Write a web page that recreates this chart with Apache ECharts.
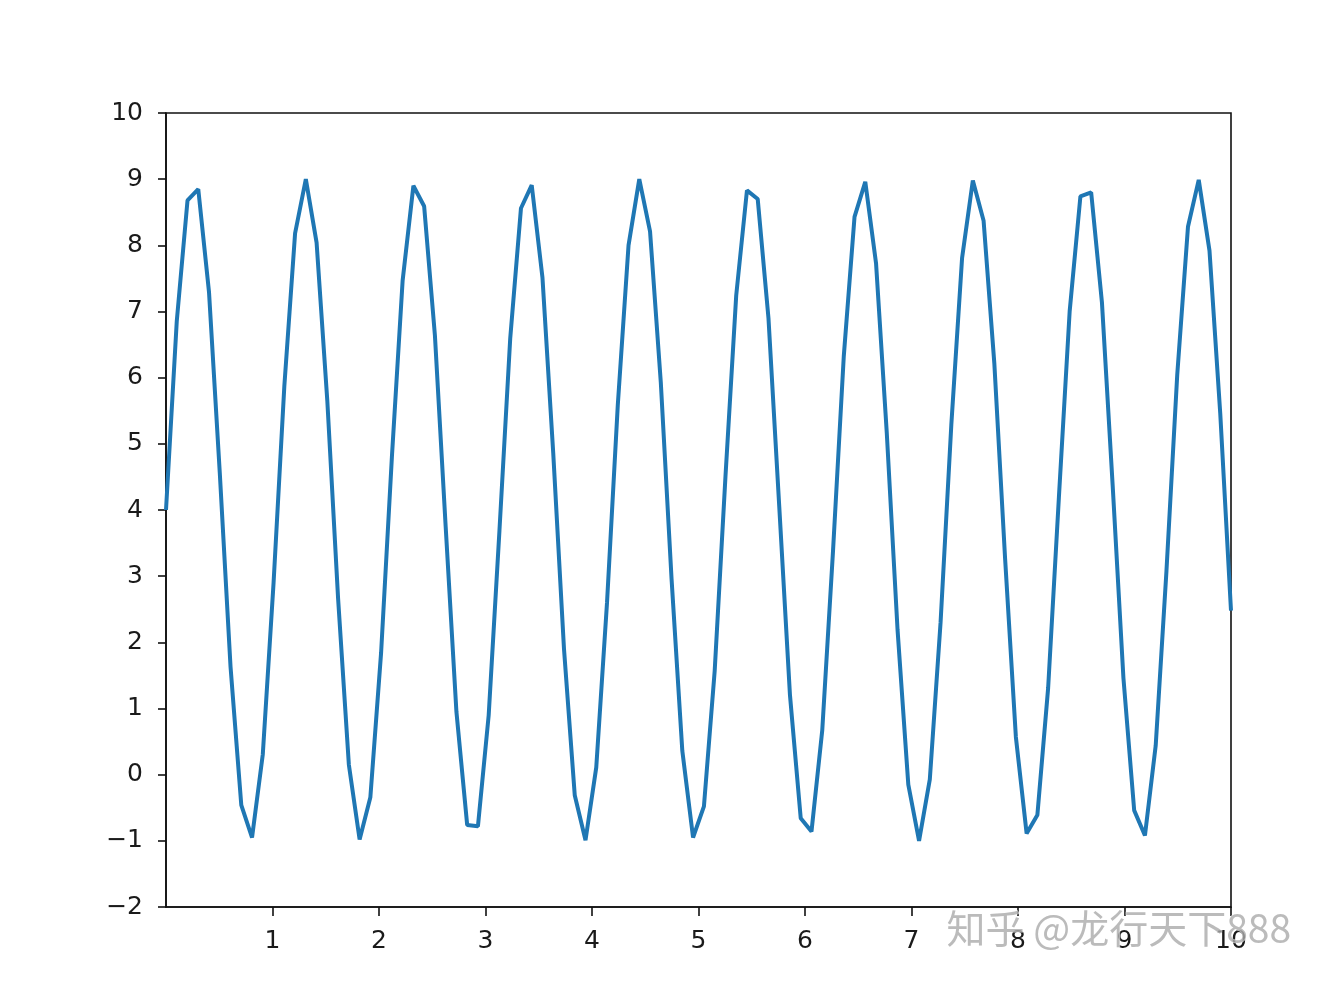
<!DOCTYPE html>
<html>
<head>
<meta charset="utf-8">
<script src="https://cdn.jsdelivr.net/npm/echarts@6/dist/echarts.min.js"></script>
<style>html,body{margin:0;padding:0;background:#fff;}#c{width:1326px;height:986px;}</style>
</head>
<body>
<div id="c"></div>
<script>
const xValues = [0, 0.101, 0.202, 0.303, 0.404, 0.505, 0.606, 0.707, 0.808, 0.909,
  1.010, 1.111, 1.212, 1.313, 1.414, 1.515, 1.616, 1.717, 1.818, 1.919,
  2.020, 2.121, 2.222, 2.323, 2.424, 2.525, 2.626, 2.727, 2.828, 2.929,
  3.030, 3.131, 3.232, 3.333, 3.434, 3.535, 3.636, 3.737, 3.838, 3.939,
  4.040, 4.141, 4.242, 4.343, 4.444, 4.545, 4.646, 4.747, 4.848, 4.949,
  5.051, 5.152, 5.253, 5.354, 5.455, 5.556, 5.657, 5.758, 5.859, 5.960,
  6.061, 6.162, 6.263, 6.364, 6.465, 6.566, 6.667, 6.768, 6.869, 6.970,
  7.071, 7.172, 7.273, 7.374, 7.475, 7.576, 7.677, 7.778, 7.879, 7.980,
  8.081, 8.182, 8.283, 8.384, 8.485, 8.586, 8.687, 8.788, 8.889, 8.990,
  9.091, 9.192, 9.293, 9.394, 9.495, 9.596, 9.697, 9.798, 9.899, 10];
const yValues = [4.00, 6.85, 8.68, 8.85, 7.29, 4.56, 1.63, -0.46, -0.95, 0.31,
  2.90, 5.87, 8.18, 9.00, 8.04, 5.64, 2.66, 0.15, -0.98, -0.34,
  1.85, 4.80, 7.47, 8.90, 8.59, 6.64, 3.75, 0.95, -0.76, -0.78,
  0.90, 3.69, 6.59, 8.56, 8.91, 7.51, 4.86, 1.90, -0.31, -0.99,
  0.11, 2.60, 5.58, 8.00, 9.00, 8.21, 5.93, 2.96, 0.36, -0.95,
  -0.48, 1.57, 4.50, 7.24, 8.83, 8.70, 6.90, 4.06, 1.20, -0.66,
  -0.86, 0.67, 3.38, 6.32, 8.43, 8.96, 7.73, 5.16, 2.19, -0.15,
  -1.00, -0.07, 2.30, 5.29, 7.81, 8.98, 8.37, 6.21, 3.26, 0.57,
  -0.89, -0.61, 1.31, 4.19, 7.00, 8.74, 8.80, 7.14, 4.37, 1.46,
  -0.54, -0.92, 0.44, 3.08, 6.04, 8.28, 8.99, 7.92, 5.46, 2.48];
const xTicks = [1, 2, 3, 4, 5, 6, 7, 8, 9, 10];
const xTickLabels = ['1', '2', '3', '4', '5', '6', '7', '8', '9', '10'];
const yTickLabels = ['\u22122', '\u22121', '0', '1', '2', '3', '4', '5', '6', '7', '8', '9', '10'];
const watermarkText = '知乎 @龙行天下888';

const chart = echarts.init(document.getElementById('c'), null, {renderer: 'canvas'});
const font = 'DejaVu Sans';
chart.setOption({
  backgroundColor: '#ffffff',
  animation: false,
  grid: {left: 166, right: 95, top: 113, bottom: 79, show: true, borderColor: '#111', borderWidth: 1.6, backgroundColor: 'transparent'},
  xAxis: {
    type: 'value', min: 0, max: 10, interval: 1,
    axisLine: {show: true, onZero: false, lineStyle: {color: '#111', width: 1.6}},
    axisTick: {show: true, inside: false, length: 9, customValues: xTicks, lineStyle: {color: '#111', width: 1.6}},
    axisLabel: {margin: 22, fontFamily: font, fontSize: 25, color: '#1a1a1a', customValues: xTicks,
      formatter: v => xTickLabels[xTicks.indexOf(Math.round(v))] || ''},
    splitLine: {show: false}
  },
  yAxis: {
    type: 'value', min: -2, max: 10, interval: 1,
    axisLine: {show: true, onZero: false, lineStyle: {color: '#111', width: 1.6}},
    axisTick: {show: true, inside: false, length: 8, lineStyle: {color: '#111', width: 1.6}},
    axisLabel: {margin: 23, fontFamily: font, fontSize: 25, color: '#1a1a1a',
      formatter: v => yTickLabels[Math.round(v) + 2]},
    splitLine: {show: false}
  },
  series: [{
    type: 'line',
    data: xValues.map((x, i) => [x, yValues[i]]),
    showSymbol: false,
    lineStyle: {color: '#1f77b4', width: 4},
    clip: true
  }],
  graphic: [{
    type: 'text', left: 946, top: 908, z: 100,
    style: {text: watermarkText, fontFamily: 'Noto Sans CJK SC', fontSize: 39,
      fill: 'rgba(170,170,170,0.8)', stroke: 'rgba(255,255,255,0.7)', lineWidth: 1}
  }]
});
</script>
</body>
</html>
